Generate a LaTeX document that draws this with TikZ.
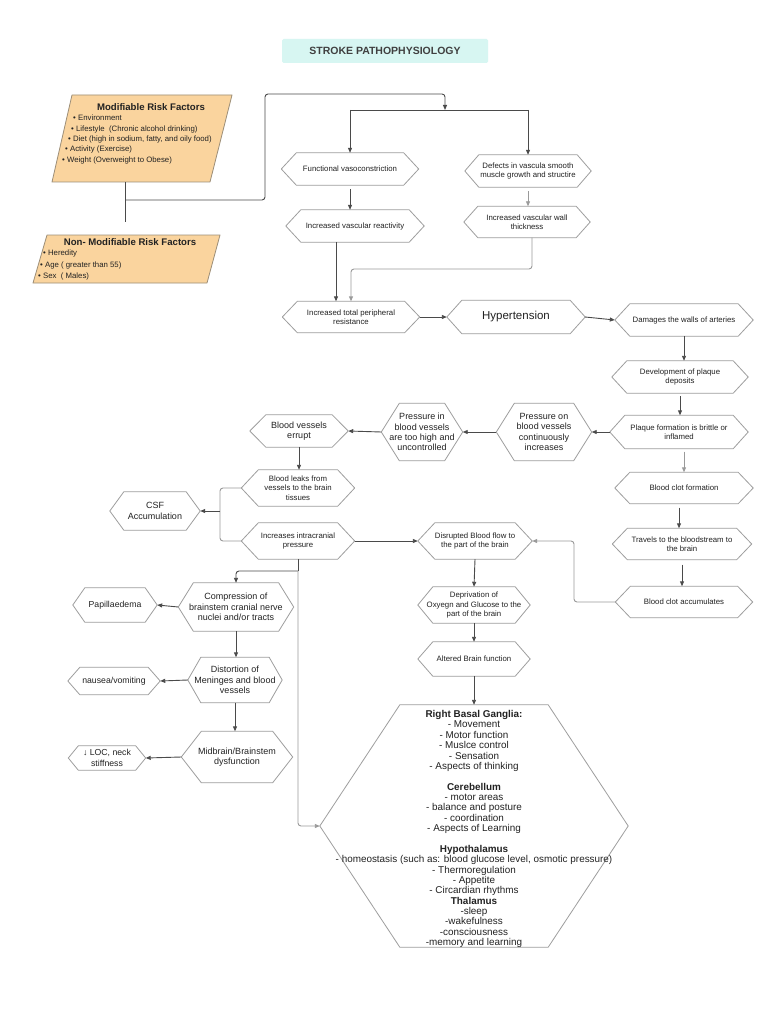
\documentclass[tikz,border=0pt]{standalone}
\usepackage{fontspec}
\setmainfont{Liberation Sans}
\usetikzlibrary{arrows.meta,calc}
\definecolor{riskfill}{HTML}{FAD49E}
\definecolor{riskdraw}{HTML}{9C8E78}
\definecolor{titlefill}{HTML}{D7F6F2}
\definecolor{txt}{HTML}{222222}
\definecolor{edge}{HTML}{4A4A4A}
\definecolor{edgelight}{HTML}{9A9A9A}
\definecolor{hexdraw}{HTML}{9E9E9E}
\tikzset{
  hexnode/.style={inner sep=0pt, align=center, text=txt, font=\fontsize{7.8}{9.4}\selectfont},
  hexline/.style={draw=hexdraw, line width=0.8pt, line join=round},
  midtext/.style={font=\fontsize{9}{10.3}\selectfont},
  sidetext/.style={font=\fontsize{8.7}{10.3}\selectfont},
  bigtext/.style={inner sep=0pt, align=center, text=txt, font=\fontsize{9.9}{10.36}\selectfont},
  conn/.style={draw=edge, line width=0.9pt, rounded corners=3pt, -{Triangle[length=5pt,width=4pt]}},
  connl/.style={conn, draw=edgelight},
  plain/.style={draw=edge, line width=0.9pt, rounded corners=3pt},
  plainl/.style={plain, draw=edgelight},
  titlebox/.style={fill=titlefill, rounded corners=1.5pt, minimum width=206, minimum height=24, inner sep=0pt, text=black!75, font=\bfseries\fontsize{10.5}{12}\selectfont},
  riskbox/.style={fill=riskfill, draw=riskdraw, line width=0.8pt, line join=round},
  risktitle/.style={inner sep=0pt, text=txt, font=\bfseries\fontsize{9.6}{11}\selectfont},
  riskitem/.style={inner sep=0pt, anchor=west, text=txt, font=\fontsize{7.8}{9}\selectfont},
}
\newcommand\hexbox[8][]{%
  \node[hexnode,#1,minimum width=#5,minimum height=#6] (#2) at (#3,#4) {#8};
  \draw[hexline] (#2.west) -- ([xshift=#7]#2.north west) -- ([xshift=-#7]#2.north east) -- (#2.east) -- ([xshift=-#7]#2.south east) -- ([xshift=#7]#2.south west) -- cycle;}
\begin{document}
\begin{tikzpicture}[x=1pt,y=-1pt]
\useasboundingbox (0,0) rectangle (768,1024);
\fill[white] (0,0) rectangle (768,1024);

% title
\node[titlebox] (title) at (385,51) {STROKE PATHOPHYSIOLOGY};

% risk factors
\draw[riskbox] (72,95) -- (232,95) -- (210,182) -- (52,182) -- cycle;
\node[risktitle] (modt) at (151,107) {Modifiable Risk Factors};
\node[riskitem] (m1) at (73,118) {• Environment};
\node[riskitem] (m2) at (71,129) {• Lifestyle\ \ (Chronic alcohol drinking)};
\node[riskitem] (m3) at (68,139) {• Diet (high in sodium, fatty, and oily food)};
\node[riskitem] (m4) at (65,149.5) {• Activity (Exercise)};
\node[riskitem] (m5) at (62,160) {• Weight (Overweight to Obese)};

\draw[riskbox] (47,235) -- (220,235) -- (207,283) -- (33,283) -- cycle;
\node[risktitle] (nont) at (130,242) {Non- Modifiable Risk Factors};
\node[riskitem] (n1) at (43,253.5) {• Heredity};
\node[riskitem] (n2) at (40,265) {• Age ( greater than 55)};
\node[riskitem] (n3) at (38,276) {• Sex\ \ ( Males)};

% hexagon nodes
\hexbox{func}{350}{169}{137}{32}{15}{Functional vasoconstriction}
\hexbox{react}{355}{226}{138}{32}{15}{Increased vascular reactivity}
\hexbox{defects}{528}{171}{126}{32}{14}{Defects in vascula smooth\\muscle growth and structire}
\hexbox{wall}{527}{222}{126}{31}{14}{Increased vascular wall\\thickness}
\hexbox{tpr}{351}{317}{137}{31}{15}{Increased total peripheral\\resistance}
\hexbox[font=\fontsize{11.5}{13}\selectfont]{hyper}{516}{317}{138}{33}{15}{Hypertension}
\hexbox{damage}{684}{320}{138}{32}{15}{Damages the walls of arteries}
\hexbox{dev}{680}{377}{136}{32}{15}{Development of plaque\\deposits}
\hexbox{brittle}{679}{432}{138}{33}{15}{Plaque formation is brittle or\\inflamed}
\hexbox[midtext]{presson}{544}{432}{95}{57}{18}{Pressure on\\blood vessels\\continuously\\increases}
\hexbox[midtext]{pressin}{422}{432}{81}{57}{18}{Pressure in\\blood vessels\\are too high and\\uncontrolled}
\hexbox[midtext]{errupt}{299}{431}{98}{32}{16}{Blood vessels\\errupt}
\hexbox{leaks}{298}{488}{113}{36}{17}{Blood leaks from\\vessels to the brain\\tissues}
\hexbox[midtext]{csf}{155}{511}{90}{38}{14}{CSF\\Accumulation}
\hexbox{clot}{684}{488}{138}{31}{15}{Blood clot formation}
\hexbox{travels}{682}{544}{139}{31}{15}{Travels to the bloodstream to\\the brain}
\hexbox{accum}{684}{602}{137}{31}{15}{Blood clot accumulates}
\hexbox{icp}{298}{541}{113}{36}{17}{Increases intracranial\\pressure}
\hexbox{disrupted}{475}{541}{114}{36}{17}{Disrupted Blood flow to\\the part of the brain}
\hexbox{deprive}{474}{605}{112}{36}{15}{Deprivation of\\Oxyegn and Glucose to the\\part of the brain}
\hexbox{altered}{474}{659}{112}{34}{15}{Altered Brain function}
\hexbox[midtext]{compress}{236}{607}{115}{48}{15}{Compression of\\brainstem cranial nerve\\nuclei and/or tracts}
\hexbox[sidetext]{papill}{115}{605}{84}{34}{12}{Papillaedema}
\hexbox[midtext]{distort}{235}{680}{94}{45}{13}{Distortion of\\Meninges and blood\\vessels}
\hexbox[sidetext]{nausea}{114}{681}{92}{27}{12}{nausea/vomiting}
\hexbox[midtext]{midbrain}{237}{757}{111}{51}{20}{Midbrain/Brainstem\\dysfunction}
\hexbox[sidetext]{loc}{107}{758}{77}{24}{10}{↓ LOC, neck\\stiffness}
\hexbox{big}{474}{826}{308}{242}{80}{}
\node[bigtext] (bigt) at (474,829) {\textbf{Right Basal Ganglia:}\\- Movement\\- Motor function\\- Muslce control\\- Sensation\\- Aspects of thinking\\ \mbox{}\\\textbf{Cerebellum}\\- motor areas\\- balance and posture\\- coordination\\- Aspects of Learning\\ \mbox{}\\\textbf{Hypothalamus}\\- homeostasis (such as: blood glucose level, osmotic pressure)\\- Thermoregulation\\- Appetite\\- Circardian rhythms\\\textbf{Thalamus}\\-sleep\\-wakefulness\\-consciousness\\-memory and learning};

% risk connectors
\coordinate (modb) at (125,182);
\coordinate (j1) at (125,200);
\coordinate (modend) at (125,222);
\coordinate (split) at (445,110);
\coordinate (sl) at (350,110);
\coordinate (sr) at (528,110);
\draw[plain] (modb) -- (modend);
\draw[conn] (j1) -- (265,200) -- (265,94) -- (445,94) -- (split);
\draw[plain] (sl) -- (sr);
\draw[conn] (sl) -- (func.north);
\draw[conn] (sr) -- (defects.north);

% upper chain
\draw[conn, shorten <=4pt] (func.south) -- (func.south |- react.north);
\draw[connl, shorten <=4pt] (defects.south) -- (defects.south |- wall.north);
\draw[conn] ([xshift=-19]react.south) -- ([xshift=-19]react.south |- tpr.north);
\draw[connl] ([xshift=5]wall.south) -- (532,269) -- (351,269) -- (tpr.north);
\draw[conn] (tpr.east) -- (hyper.west);
\draw[conn] (hyper.east) -- (damage.west);
\draw[conn] (damage.south) -- (damage.south |- dev.north);
\draw[conn, shorten <=3pt] (dev.south) -- (dev.south |- brittle.north);
\draw[connl, shorten <=3pt] ([xshift=5]brittle.south) -- ([xshift=5]brittle.south |- clot.north);
\draw[conn, shorten <=4pt] ([xshift=-5]clot.south) -- ([xshift=-5]clot.south |- travels.north);
\draw[conn, shorten <=5pt] (travels.south) -- (travels.south |- accum.north);

% pressure chain
\draw[conn] (brittle.west) -- (presson.east);
\draw[conn] (presson.west) -- (pressin.east);
\draw[conn] (pressin.west) -- (errupt.east);
\draw[conn] (errupt.south) -- (errupt.south |- leaks.north);

% bracket to CSF
\coordinate (brk) at (220,511);
\draw[plainl] (leaks.west) -| (brk) |- (icp.west);
\draw[conn] (brk) -- (csf.east);

% flow to brain
\draw[conn] (icp.east) -- (disrupted.west);
\draw[connl] (accum.west) -- (574,602) -- (574,541) -- (disrupted.east);
\draw[conn] (disrupted.south) -- (deprive.north);
\draw[conn] (deprive.south) -- (altered.north);
\draw[conn] (altered.south) -- (big.north);

% intracranial branch
\coordinate (icpj) at (298,571);
\draw[plain] (icp.south) -- (icpj);
\draw[conn] (icpj) -| (compress.north);
\draw[connl] (icpj) |- (big.west);
\draw[conn] (compress.west) -- (papill.east);
\draw[conn] (compress.south) -- (compress.south |- distort.north);
\draw[conn] (distort.west) -- (nausea.east);
\draw[conn] (distort.south) -- (distort.south |- midbrain.north);
\draw[conn] (midbrain.west) -- (loc.east);
\end{tikzpicture}
\end{document}
